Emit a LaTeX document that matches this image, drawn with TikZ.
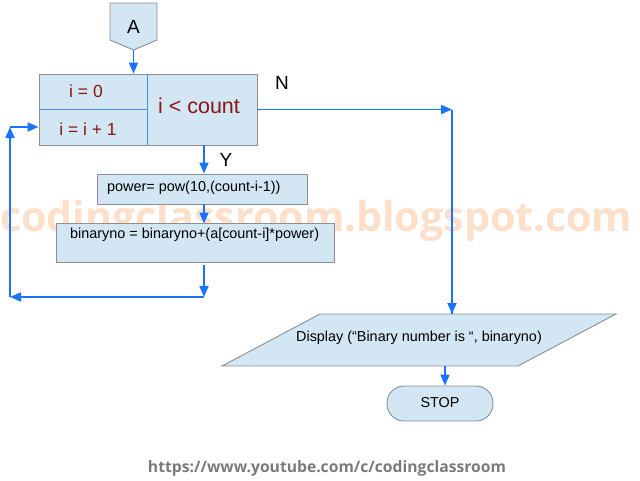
\documentclass[tikz,border=0pt]{standalone}
\usepackage{fontspec}
\setmainfont{Liberation Sans}
\newfontfamily\wmfont{Open Sans}
\usetikzlibrary{arrows.meta}
\definecolor{boxfill}{HTML}{D2E6F4}
\definecolor{boxline}{HTML}{8E8E8E}
\definecolor{flow}{HTML}{1A73FF}
\definecolor{divline}{HTML}{4A8FE0}
\definecolor{dred}{HTML}{8B1414}
\definecolor{wm}{HTML}{FDDFCA}
\definecolor{urlgray}{HTML}{7A7A7A}
\begin{document}
\begin{tikzpicture}[x=1pt,y=-1pt,
  box/.style={draw=boxline, fill=boxfill, line width=0.9pt, inner sep=0pt},
  flowline/.style={draw=flow, line width=1.8pt},
  arr/.style={flowline, -{Triangle[length=11pt,width=9pt]}},
  divider/.style={draw=divline, line width=0.9pt},
  txt/.style={font=\fontsize{14.4}{16}\selectfont, inner sep=0pt},
  redtxt/.style={font=\fontsize{17.5}{19}\selectfont, text=dred, inner sep=0pt},
  lbl/.style={font=\fontsize{19}{21}\selectfont, inner sep=0pt}]
\useasboundingbox (0,0) rectangle (640,480);
% watermark
\node[text=wm, inner sep=0pt, anchor=base west] (wmark) at (0,231)
  {\resizebox{632pt}{!}{\wmfont\bfseries codingclassroom.blogspot.com}};
% off-page connector A
\draw[box] (110,3) -- (157,3) -- (157,40) -- (133.5,50) -- (110,40) -- cycle;
\node[lbl] (A) at (133.5,27) {A};
\coordinate (Atip) at (133.5,50);
% loop box
\node[box, minimum width=218pt, minimum height=71pt] (loop) at (148,109.5) {};
\draw[divider] (147,74) -- (147,145);
\draw[divider] (39,109) -- (147,109);
\node[redtxt] (init) at (86,91) {i = 0};
\node[redtxt] (inc) at (88,129) {i = i + 1};
\node[font=\fontsize{21.5}{23}\selectfont, text=dred, inner sep=0pt] (cond) at (199,106) {i < count};
\node[lbl] (N) at (282,83) {N};
\node[lbl] (Y) at (226,160) {Y};
% process boxes
\node[box, minimum width=210pt, minimum height=30pt] (power) at (202,189) {};
\node[txt, anchor=west] (powt) at (107,188) {power= pow(10,(count-i-1))};
\node[box, minimum width=278pt, minimum height=39pt] (bin) at (195,242.5) {};
\node[txt, anchor=west] (bint) at (70,235) {binaryno = binaryno+(a[count-i]*power)};
% display parallelogram
\draw[box] (320,314) -- (616,314) -- (518,366) -- (222,366) -- cycle;
\node[txt] (disp) at (419,338) {Display (“Binary number is “, binaryno)};
\coordinate (dtop) at (452,314);
\coordinate (dbot) at (445,366);
% stop
\node[box, minimum width=106pt, minimum height=35pt, rounded corners=17pt] (stop) at (440,403.5) {};
\node[txt] (stopt) at (440,403) {STOP};
% url
\node[text=urlgray, inner sep=0pt] (url) at (327,468)
  {\resizebox{358pt}{!}{\wmfont\bfseries https://www.youtube.com/c/codingclassroom}};
% connectors
\coordinate (ncorner) at (452,109.5);
\coordinate (r1) at (204,297);
\coordinate (r2) at (10,297);
\coordinate (r3) at (10,127);
\draw[arr] (Atip) -- (loop.north -| Atip);
\draw[arr] (loop.east) -- (ncorner);
\draw[flowline] (ncorner) -- (dtop);
\draw[arr] ([yshift=8pt]dtop) -- (dtop);
\draw[arr] ([xshift=56pt]loop.south) -- ([xshift=2pt]power.north);
\draw[arr] ([xshift=2pt]power.south) -- ([xshift=9pt,yshift=-1pt]bin.north);
\draw[arr] ([xshift=9pt,yshift=-3pt]bin.south) -- (r1);
\draw[arr] (r1) -- (r2);
\draw[arr] (r2) -- (r3);
\draw[arr] (r3) -- ([yshift=-17.5pt]loop.west);
\draw[arr] (dbot) -- (stop.north -| dbot);
\end{tikzpicture}
\end{document}
